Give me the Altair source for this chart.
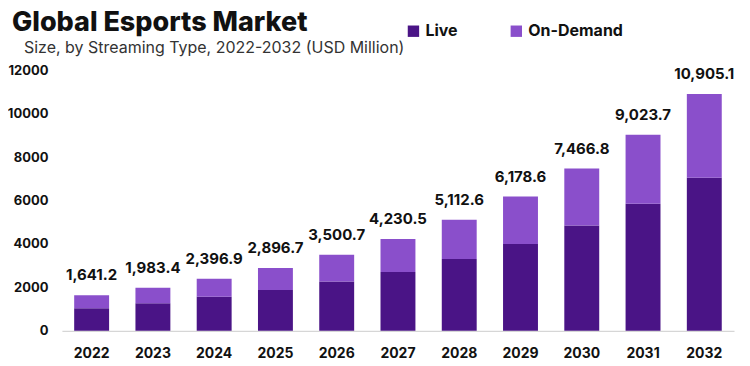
import altair as alt
import pandas as pd

years = ["2022", "2023", "2024", "2025", "2026", "2027", "2028", "2029", "2030", "2031", "2032"]
totals = [1641.2, 1983.4, 2396.9, 2896.7, 3500.7, 4230.5, 5112.6, 6178.6, 7466.8, 9023.7, 10905.1]
live = [1040, 1270, 1565, 1878, 2266, 2708, 3311, 3997, 4849, 5850, 7050]
segments = ["Live", "On-Demand"]
colors = ["#4A1486", "#8A4FCB"]

rows = []
for y, t, l in zip(years, totals, live):
    rows.append({"year": y, "segment": "Live", "value": l, "order": 0})
    rows.append({"year": y, "segment": "On-Demand", "value": round(t - l, 1), "order": 1})
df = pd.DataFrame(rows)
tot_df = pd.DataFrame({"year": years, "total": totals})

FONT = "Inter"

x_enc = alt.X("year:N", title=None, sort=years,
              scale=alt.Scale(paddingInner=0.43, paddingOuter=0.2),
              axis=alt.Axis(labelAngle=0, labelFontSize=14, labelFontWeight="bold",
                            labelColor="#111", ticks=False, domainColor="#cccccc",
                            labelPadding=16, labelFont=FONT))

bars = alt.Chart(df).mark_bar().encode(
    x=x_enc,
    y=alt.Y("value:Q", title=None, stack="zero",
            scale=alt.Scale(domain=[0, 12000]),
            axis=alt.Axis(values=[0, 2000, 4000, 6000, 8000, 10000, 12000], grid=False,
                          format="d",
                          domain=False, ticks=False, labelFontSize=13, labelFontWeight="bold",
                          labelColor="#111", labelPadding=14, labelFont=FONT)),
    color=alt.Color("segment:N", sort=segments,
                    scale=alt.Scale(domain=segments, range=colors),
                    legend=alt.Legend(title=None, orient="none", direction="horizontal",
                                      legendX=344, legendY=-47, symbolType="square",
                                      symbolSize=130, symbolStrokeWidth=0,
                                      labelFontSize=16, labelFontWeight="bold",
                                      labelColor="#111", labelFont=FONT,
                                      columnPadding=50, symbolOffset=0, labelOffset=4)),
    order=alt.Order("order:Q"),
)

labels = alt.Chart(tot_df).mark_text(dy=-20, fontSize=15, fontWeight="bold",
                                     color="#111", font=FONT).encode(
    x=alt.X("year:N", sort=years),
    y=alt.Y("total:Q"),
    text=alt.Text("total:Q", format=",.1f"),
)

chart = alt.layer(bars, labels).properties(
    width=673, height=261,
    autosize="none",
    padding={"left": 54, "top": 62, "right": 8, "bottom": 30},
    title=alt.TitleParams(
        text="Global Esports Market",
        subtitle="\u2800Size, by Streaming Type, 2022-2032 (USD Million)",
        anchor="start", frame="group", dx=-50, dy=48, offset=14,
        fontSize=27, fontWeight=800, font=FONT, color="#111",
        subtitleFontSize=16, subtitleFont=FONT, subtitleColor="#333",
        subtitlePadding=3,
    ),
).configure_view(stroke=None)

chart.save("out.html", embed_options={"renderer": "svg", "actions": False})
